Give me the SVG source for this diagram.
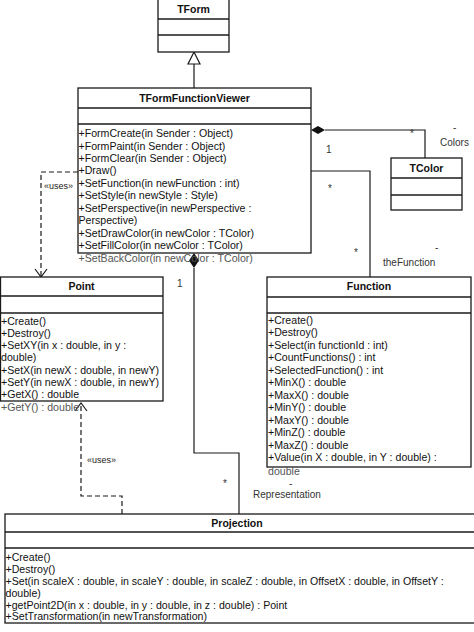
<svg xmlns="http://www.w3.org/2000/svg" width="474" height="632" viewBox="0 0 474 632">
<style>
.box{fill:#fff;stroke:#1a1a1a;stroke-width:1.3}
.sep{stroke:#1a1a1a;stroke-width:1.3}
.t{font-family:"Liberation Sans",Arial,sans-serif;font-size:10.6px;fill:#111}
.o{font-family:"Liberation Sans",Arial,sans-serif;font-size:10.6px;fill:#555}
.h{font-family:"Liberation Sans",Arial,sans-serif;font-size:10.5px;font-weight:bold;fill:#111;text-anchor:middle}
.l{font-family:"Liberation Sans",Arial,sans-serif;font-size:10px;fill:#333}
.u{font-family:"Liberation Sans",Arial,sans-serif;font-size:9px;fill:#222}
.ln{fill:none;stroke:#1a1a1a;stroke-width:1.2}
.dash{fill:none;stroke:#1a1a1a;stroke-width:1.2;stroke-dasharray:5,3}
</style>
<rect width="474" height="632" fill="#fff"/>

<g id="connectors">
  <line class="ln" x1="194" y1="64" x2="194" y2="88"/>
  <polygon points="188,64 200,64 194,52" fill="#fff" stroke="#1a1a1a" stroke-width="1.2"/>
  <polyline class="ln" points="325,130 425,130 425,158"/>
  <polygon points="311,130 318,126 325,130 318,134" fill="#111"/>
  <polyline class="ln" points="311,171 370,171 370,277"/>
  <polyline class="ln" points="194,268 194,453 239,453 239,514"/>
  <polygon points="194,253 199,260.5 194,268 189,260.5" fill="#111"/>
  <polyline class="dash" points="78,172 41,172 41,276"/>
  <polyline class="ln" points="35,269 41,277 47,269"/>
  <polyline class="dash" points="122,514 122,496 81,496 81,404"/>
  <polyline class="ln" points="75,411 81,403 87,411"/>
  <text class="u" x="44" y="189">«uses»</text>
  <text class="u" x="87" y="463">«uses»</text>
  <text class="l" x="326" y="153">1</text>
  <text class="l" x="410" y="137">*</text>
  <text class="l" x="453" y="131">-</text>
  <text class="l" x="440" y="146">Colors</text>
  <text class="l" x="328" y="192">*</text>
  <text class="l" x="354" y="256">*</text>
  <text class="l" x="435" y="251">-</text>
  <text class="l" x="383" y="266">theFunction</text>
  <text class="l" x="177" y="287">1</text>
  <text class="l" x="223" y="487">*</text>
  <text class="l" x="289" y="487">-</text>
  <text class="l" x="253" y="498">Representation</text>
</g>

<g id="TForm">
  <rect class="box" x="158" y="-2" width="71" height="54"/>
  <line class="sep" x1="158" y1="19" x2="229" y2="19"/>
  <line class="sep" x1="158" y1="35" x2="229" y2="35"/>
  <text class="h" x="193.5" y="13">TForm</text>
</g>

<g id="TFormFunctionViewer">
  <rect class="box" x="78" y="88" width="233" height="165"/>
  <line class="sep" x1="78" y1="108" x2="311" y2="108"/>
  <line class="sep" x1="78" y1="124" x2="311" y2="124"/>
  <text class="h" x="194.5" y="102">TFormFunctionViewer</text>
  <text class="t" x="78.5" y="137">+FormCreate(in Sender : Object)</text>
  <text class="t" x="78.5" y="149.5">+FormPaint(in Sender : Object)</text>
  <text class="t" x="78.5" y="162">+FormClear(in Sender : Object)</text>
  <text class="t" x="78.5" y="174">+Draw()</text>
  <text class="t" x="78.5" y="186.5">+SetFunction(in newFunction : int)</text>
  <text class="t" x="78.5" y="199">+SetStyle(in newStyle : Style)</text>
  <text class="t" x="78.5" y="211.5">+SetPerspective(in newPerspective :</text>
  <text class="t" x="78.5" y="224">Perspective)</text>
  <text class="t" x="78.5" y="236.5">+SetDrawColor(in newColor : TColor)</text>
  <text class="t" x="78.5" y="249">+SetFillColor(in newColor : TColor)</text>
  <text class="o" x="78.5" y="261.5">+SetBackColor(in newColor : TColor)</text>
</g>

<g id="TColor">
  <rect class="box" x="391" y="158" width="71" height="52"/>
  <line class="sep" x1="391" y1="178" x2="462" y2="178"/>
  <line class="sep" x1="391" y1="195" x2="462" y2="195"/>
  <text class="h" x="426.5" y="172">TColor</text>
</g>

<g id="Point">
  <rect class="box" x="0.5" y="277" width="162.5" height="124"/>
  <line class="sep" x1="0" y1="296" x2="163" y2="296"/>
  <line class="sep" x1="0" y1="313" x2="163" y2="313"/>
  <text class="h" x="81.5" y="290">Point</text>
  <text class="t" x="1" y="324.5">+Create()</text>
  <text class="t" x="1" y="336.8">+Destroy()</text>
  <text class="t" x="1" y="349.1">+SetXY(in x : double, in y :</text>
  <text class="t" x="1" y="361.4">double)</text>
  <text class="t" x="1" y="373.7">+SetX(in newX : double, in newY)</text>
  <text class="t" x="1" y="386">+SetY(in newX : double, in newY)</text>
  <text class="t" x="1" y="398.3">+GetX() : double</text>
  <text class="o" x="1" y="411">+GetY() : double</text>
</g>

<g id="Function">
  <rect class="box" x="267" y="277" width="204" height="190"/>
  <line class="sep" x1="267" y1="297" x2="471" y2="297"/>
  <line class="sep" x1="267" y1="313" x2="471" y2="313"/>
  <text class="h" x="369" y="290">Function</text>
  <text class="t" x="268" y="323.5">+Create()</text>
  <text class="t" x="268" y="336">+Destroy()</text>
  <text class="t" x="268" y="348.5">+Select(in functionId : int)</text>
  <text class="t" x="268" y="361">+CountFunctions() : int</text>
  <text class="t" x="268" y="373.5">+SelectedFunction() : int</text>
  <text class="t" x="268" y="386">+MinX() : double</text>
  <text class="t" x="268" y="398.5">+MaxX() : double</text>
  <text class="t" x="268" y="411">+MinY() : double</text>
  <text class="t" x="268" y="423.5">+MaxY() : double</text>
  <text class="t" x="268" y="436">+MinZ() : double</text>
  <text class="t" x="268" y="448.5">+MaxZ() : double</text>
  <text class="t" x="268" y="461">+Value(in X : double, in Y : double) :</text>
  <text class="o" x="268" y="475">double</text>
</g>

<g id="Projection">
  <rect class="box" x="5" y="514" width="480" height="109"/>
  <line class="sep" x1="5" y1="532" x2="474" y2="532"/>
  <line class="sep" x1="5" y1="548" x2="474" y2="548"/>
  <text class="h" x="237" y="527">Projection</text>
  <text class="t" x="5.5" y="560.5">+Create()</text>
  <text class="t" x="5.5" y="572.5">+Destroy()</text>
  <text class="t" x="5.5" y="584.5">+Set(in scaleX : double, in scaleY : double, in scaleZ : double, in OffsetX : double, in OffsetY :</text>
  <text class="t" x="5.5" y="596.5">double)</text>
  <text class="t" x="5.5" y="608.5">+getPoint2D(in x : double, in y : double, in z : double) : Point</text>
  <text class="t" x="5.5" y="620">+SetTransformation(in newTransformation)</text>
</g>
</svg>
